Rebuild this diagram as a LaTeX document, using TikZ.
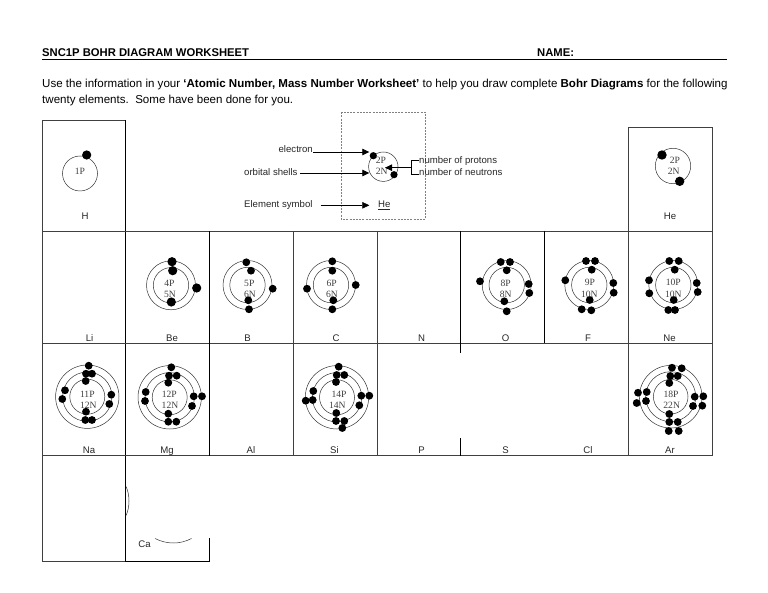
\documentclass[tikz,border=0pt]{standalone}
\usepackage{fontspec}
\setmainfont{Liberation Sans}
\newfontfamily\numfont{Liberation Serif}
\usetikzlibrary{arrows.meta}
\tikzset{
  rule/.style={line width=0.7pt,black!75},
  ruledark/.style={line width=0.7pt,black},
  shell/.style={line width=0.5pt,black!80},
  label/.style={inner sep=0pt,font=\fontsize{9.6}{12}\selectfont,text=black!85},
  leftlabel/.style={label,anchor=west},
  symbol/.style={label,anchor=base},
  body/.style={inner sep=0pt,anchor=base west,font=\fontsize{11.55}{13}\selectfont},
  heading/.style={inner sep=0pt,anchor=base west,font=\fontsize{11.25}{13}\selectfont\bfseries},
  count/.style={inner sep=0pt,font=\numfont\fontsize{9.6}{12}\selectfont,text=black!75},
  pointer/.style={line width=0.8pt,-{Triangle[length=7pt,width=6.5pt]}}
}
% shells centred on (#1,#2), radii #3, electrons #4 of radius #5
\newcommand{\shells}[5]{%
  \foreach \rr in {#3} \draw[shell] (#1,#2) circle[radius=\rr pt];
  \foreach \pp in {#4} \fill \pp circle[radius=#5 pt];
}
\begin{document}
\begin{tikzpicture}[x=1pt,y=-1pt]
\useasboundingbox (0,0) rectangle (768,593);

% heading and instructions
\node[heading] (title) at (42,57) {SNC1P BOHR DIAGRAM WORKSHEET};
\node[heading] (name) at (537,57) {NAME:};
\draw[line width=0.8pt] (42,59.5) -- (727,59.5);
\node[body] (intro1) at (42,88) {Use the information in your \textbf{‘Atomic Number, Mass Number Worksheet’} to help you draw complete \textbf{Bohr Diagrams} for the following};
\node[body] (intro2) at (42,103.5) {twenty elements.\ \ Some have been done for you.};

% table rules
\draw[rule] (42,120) -- (125.5,120);
\draw[rule] (42,120) -- (42,561) -- (125.5,561);
\draw[ruledark] (125.5,120) -- (125.5,561) -- (209.5,561) -- (209.5,538);
\draw[rule] (628,127) -- (712,127) -- (712,455.5);
\draw[rule,line width=1pt] (628,127) -- (628,455.5);
\draw[rule] (42,231) -- (712,231);
\draw[rule] (42,343.5) -- (712,343.5);
\draw[rule] (42,455.5) -- (712,455.5);
\draw[ruledark] (209.5,231) -- (209.5,455.5);
\draw[rule,line width=0.9pt] (293,231) -- (293,455.5);
\draw[rule,line width=0.9pt] (377,231) -- (377,455.5);
\draw[ruledark] (460.5,231) -- (460.5,353);
\draw[ruledark] (460.5,438) -- (460.5,455.5);
\draw[ruledark] (544.5,231) -- (544.5,343.5);
\draw[shell] (126,486.5) .. controls (130,495) and (130,507) .. (126,515.5);
\draw[shell] (155,538.5) .. controls (167,544.5) and (180,544.5) .. (191.5,538.5);

% element symbols
\foreach \nm/\px/\py/\txt in {
  lH/85/219.5/H, lHe/670/219.5/He,
  lLi/89.5/341.5/Li, lBe/172/341.5/Be, lB/247.5/341.5/B, lC/336/341.5/C,
  lN/421.5/341.5/N, lO/505.5/341.5/O, lF/588/341.5/F, lNe/669.5/341.5/Ne,
  lNa/89/453.5/Na, lMg/167/453.5/Mg, lAl/251/453.5/Al, lSi/334.5/453.5/Si,
  lP/421.5/453.5/P, lS/505.5/453.5/S, lCl/588/453.5/Cl, lAr/670/453.5/Ar,
  lCa/144.5/547.5/Ca}
  \node[symbol] (\nm) at (\px,\py) {\txt};

% atoms
\shells{80}{173.5}{17.5}{(86.7,155)}{4.6}
\node[count] (pH) at (80,171) {1P};

\shells{673}{166}{17.7}{(662,155),(679.7,181.3)}{4.7}
\node[count] (pHe) at (675,160.7) {2P};
\node[count] (nHe) at (673.7,171.3) {2N};

\shells{171}{285.3}{17.7,24.5}{(172,261.7),(172.7,270.7),(171.3,302),(196.7,288)}{4.6}
\node[count] (pBe) at (169.5,283) {4P};
\node[count] (nBe) at (170,294.3) {5N};

\shells{247.5}{285}{17.7,24.5}{(246.3,262.3),(251,270.7),(248.3,300.3),(249,309.3),(272.7,288.7)}{3.9}
\node[count] (pB) at (249.3,283.3) {5P};
\node[count] (nB) at (250,294.7) {6N};

\shells{331}{285}{17.7,24.5}{(332.3,261.3),(332.3,270.7),(333.3,300.3),(332.3,309.3),(307,288.7),(355.7,285)}{3.9}
\node[count] (pC) at (331.7,283.3) {6P};
\node[count] (nC) at (332,294.7) {6N};

\shells{506.7}{285}{17.7,24.5}{(500.7,262),(510,262),(506.7,270.3),(504.3,301.3),(506.7,311.3),(480,281.3),(528.7,284),(529.3,293)}{3.9}
\node[count] (pO) at (505.7,283.3) {8P};
\node[count] (nO) at (505.7,294.7) {8N};

\shells{589.3}{285}{17.7,24.5}{(586,261),(595,261),(591.7,269.7),(589.7,300),(581.7,309.3),(591.3,310.3),(565.3,280.3),(613.3,283),(613.7,292.7)}{3.9}
\node[count] (pF) at (590,282.7) {9P};
\node[count] (nF) at (589.3,294.7) {10N};

\shells{673.3}{285}{17.7,24.5}{(669.3,261),(678.7,261),(674.7,269.7),(673.7,300),(668.3,310),(675,310),(649,280.3),(649.3,293.3),(696.7,283),(697.7,292)}{3.9}
\node[count] (pNe) at (673.3,282.7) {10P};
\node[count] (nNe) at (673.3,294.7) {10N};

\shells{87.3}{396.7}{17.5,24.7,31.7}{(88.7,365.7),(86,373.7),(92,373.7),(85.7,381),(86,411.7),(85.3,420),(92,420),(65,390.3),(62.3,399),(111.3,394.7),(109.3,404)}{3.9}
\node[count] (pNa) at (87.3,394.7) {11P};
\node[count] (nNa) at (88.3,405.7) {12N};

\shells{169.7}{397.3}{17.5,24.7,31.7}{(171.3,367.3),(169,375.7),(176.7,375.7),(168.3,382.7),(168.3,413.7),(168.3,421.7),(176.3,421.7),(145.7,392),(145,401),(193.7,396.3),(202,396.3),(192,406)}{3.9}
\node[count] (pMg) at (169.3,394.7) {12P};
\node[count] (nMg) at (170,405.7) {12N};

\shells{337}{397.3}{17.5,24.7,31.7}{(338.7,366.7),(336.7,375),(344.3,375),(336,382),(336.3,413),(336,421),(344.3,421),(342.3,428),(313.3,391),(312.7,400),(305.7,400.7),(361.3,395.7),(369.3,395.7),(359.3,405.3)}{3.9}
\node[count] (pSi) at (339,394.7) {14P};
\node[count] (nSi) at (337.3,405.7) {14N};

\shells{670.7}{396.7}{17.3,25,31.3}{(672,367.7),(681.7,368.3),(670.3,376),(677.7,376),(669.3,383),(669.3,414),(669.3,422),(677.7,422),(668.7,431),(678.7,431),(638,392.7),(646.7,392),(636.7,403),(646,401),(694.7,396.7),(703.3,396.3),(693,406),(702.3,405.7)}{3.9}
\node[count] (pAr) at (671,394.7) {18P};
\node[count] (nAr) at (671.7,405) {22N};

% key to the diagram
\draw[gray,line width=0.6pt,dash pattern=on 2pt off 1.2pt] (341.3,112.3) rectangle (425.3,219.3);
\shells{383.3}{166.7}{14.7}{(373.3,155.7),(394,174.7)}{3.6}
\node[count] (pKey) at (381,160) {2P};
\node[count] (nKey) at (381.7,171) {2N};

\node[label,anchor=east] (kElectron) at (313,149.5) {electron};
\node[leftlabel] (kShells) at (244,172) {orbital shells};
\node[leftlabel] (kSymbol) at (244,205.3) {Element symbol};
\node[leftlabel] (kProtons) at (419,160.7) {number of protons};
\node[leftlabel] (kNeutrons) at (419,172) {number of neutrons};
\node[label] (kHe) at (384.3,205.3) {\underline{He}};

\coordinate (aElectronS) at (313.3,152);
\coordinate (aElectronE) at (369.3,152);
\coordinate (aShellsS) at (300,173);
\coordinate (aShellsE) at (369.3,173);
\coordinate (aSymbolS) at (320.7,205.3);
\coordinate (aSymbolE) at (369.3,205.3);
\coordinate (bTop) at (411.7,160.7);
\coordinate (bMid) at (411.7,167.7);
\coordinate (bBot) at (411.7,174.7);
\coordinate (aCount) at (385,167.7);
\draw[pointer] (aElectronS) -- (aElectronE);
\draw[pointer] (aShellsS) -- (aShellsE);
\draw[pointer,line width=0.5pt] (aSymbolS) -- (aSymbolE);
\draw[line width=0.8pt] (kProtons.west) -- (bTop) -- (bBot) -- (bBot -| kNeutrons.west);
\draw[pointer] (bMid) -- (aCount);
\end{tikzpicture}
\end{document}
